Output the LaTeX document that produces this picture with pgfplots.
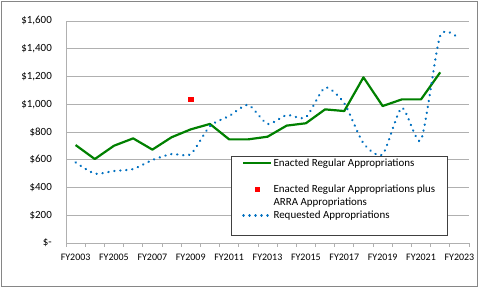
\documentclass[border=0pt]{standalone}
\usepackage{fontspec}
\setmainfont{Carlito}
\usepackage{pgfplots}
\pgfplotsset{compat=1.18}

\definecolor{enacted}{RGB}{0,128,0}
\definecolor{requested}{RGB}{0,112,192}
\definecolor{arra}{RGB}{255,0,0}
\definecolor{gridgray}{RGB}{176,176,176}
\definecolor{framegray}{RGB}{134,134,134}

\begin{document}
\begin{tikzpicture}
\useasboundingbox (0,0) rectangle (480bp,288bp);
\draw[framegray, line width=0.8bp] (1bp,2bp) rectangle (477bp,287bp);
\begin{axis}[
    at={(66bp,45bp)}, anchor=south west,
    scale only axis, width=403bp, height=222bp,
    font=\fontsize{11}{13}\selectfont,
    axis x line=bottom, axis y line=left,
    axis line style={-, gridgray, line width=0.8bp},
    xmin=-0.5, xmax=20.5, ymin=0, ymax=1600,
    xtick={0,2,...,20},
    xticklabels={FY2003,FY2005,FY2007,FY2009,FY2011,FY2013,FY2015,FY2017,FY2019,FY2021,FY2023},
    minor xtick={-0.5,0.5,...,20.5},
    major tick length=0bp, minor tick length=4bp, tick align=outside,
    every minor tick/.append style={gridgray, line width=0.8bp},
    xticklabel style={anchor=center, inner sep=0pt, yshift=-14bp, font=\fontsize{10}{12}\selectfont},
    ytick={0,200,...,1600},
    yticklabels={\$-\hspace{5bp},\$200,\$400,\$600,\$800,{\$1,000},{\$1,200},{\$1,400},{\$1,600}},
    yticklabel style={anchor=east, inner sep=0pt, xshift=-14bp},
    ytick style={draw=none},
    ymajorgrids, major grid style={gridgray, line width=0.8bp},
    clip=false,
    every axis plot/.append style={legend image code/.code={
        \draw[mark repeat=2,mark phase=2,##1] plot coordinates {(0bp,0bp) (14bp,0bp) (28bp,0bp)};}},
    legend style={at={(rel axis cs:0.409,0.392)}, anchor=north west,
        draw=black!75, line width=0.8bp, fill=white,
        inner xsep=11bp, inner ysep=0.5bp, row sep=0pt, column sep=0pt,
        cells={anchor=west},
        nodes={inner xsep=1bp, inner ysep=0.5bp, text height=9bp, text depth=3bp},
        font=\fontsize{11}{13}\selectfont},
]
\addplot[enacted, line width=2.2bp, line join=round] coordinates {
(0,706) (1,605) (2,701) (3,754) (4,673) (5,762) (6,819) (7,858) (8,747) (9,747)
(10,766) (11,846) (12,863) (13,963) (14,951) (15,1194) (16,987) (17,1035) (18,1035) (19,1230)
};
\addlegendentry{Enacted Regular Appropriations}
\addlegendimage{legend image code/.code={}}
\addlegendentry{}
\addplot[only marks, mark=square*, mark size=2.2bp, arra, mark options={draw=arra, fill=arra}] coordinates {
(6,1038)
};
\addlegendentry{Enacted Regular Appropriations plus}
\addlegendimage{legend image code/.code={}}
\addlegendentry{ARRA Appropriations}
\addplot[requested, line width=2.3bp, line cap=round, dash pattern=on 0.3bp off 5.7bp, smooth, tension=0.4] coordinates {
(0,581) (1,500) (2,519) (3,533) (4,598) (5,641) (6,641) (7,843) (8,915) (9,995)
(10,858) (11,922) (12,906) (13,1120) (14,1007) (15,718) (16,639) (17,975) (18,742) (19,1494) (20,1470)
};
\addlegendentry{Requested Appropriations}
\addlegendimage{legend image code/.code={}}
\addlegendentry{}
\end{axis}
\end{tikzpicture}
\end{document}
